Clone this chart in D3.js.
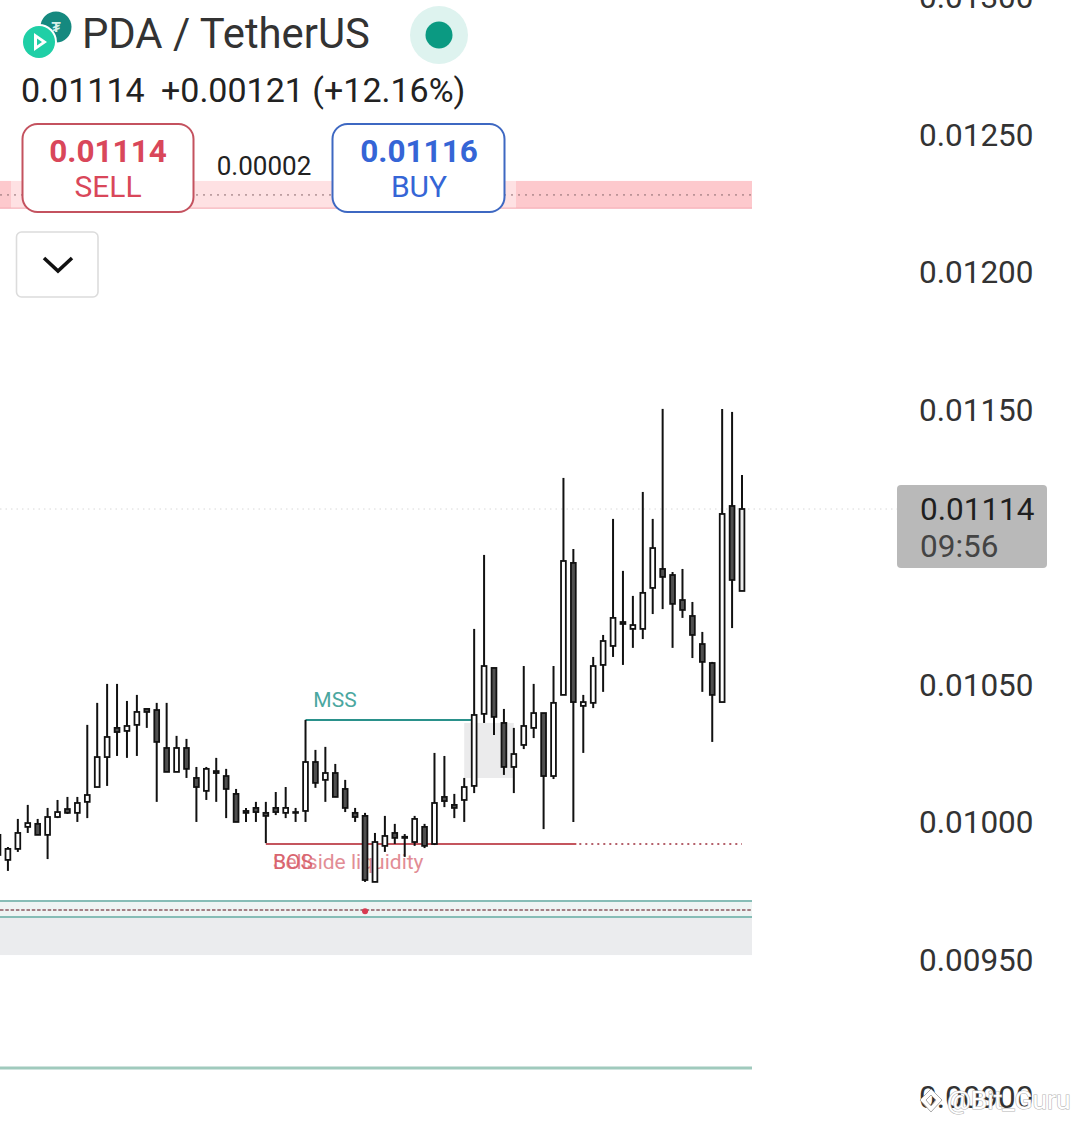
<!DOCTYPE html>
<html>
<head>
<meta charset="utf-8">
<script src="https://cdn.jsdelivr.net/npm/d3@7"></script>
<style>
  html, body { margin: 0; background: #fff; }
  svg { display: block; font-family: Roboto, sans-serif; }
</style>
</head>
<body>
<svg id="chart"></svg>
<script>
// prices are in units of 0.00001
const opens = [988.2,986.4,990.4,998.4,999.5,995.5,1002.0,1004.9,1003.5,1007.5,1012.9,1023.8,1034.4,1033.3,1035.5,1041.3,1040.9,1027.1,1018.4,1027.1,1016.2,1011.5,1018.7,1016.9,1010.4,1004.2,1005.3,1003.5,1005.3,1003.5,1003.8,1004.2,1022.0,1015.5,1018.0,1012.2,1003.5,1002.4,978.4,991.5,996.2,994.8,992.9,998.4,992.2,1009.3,1006.4,1008.2,1013.3,1039.5,1056.2,1036.2,1020.2,1028.2,1034.4,1039.8,1016.9,1046.4,1094.4,1042.4,1043.5,1057.3,1064.2,1072.9,1070.4,1070.4,1085.3,1092.2,1090.0,1080.9,1075.1,1064.9,1058.0,1043.8,1115.1,1084.2];
const highs = [996.2,991.1,1001.3,1006.4,1001.3,1005.3,1008.2,1009.3,1009.3,1035.5,1043.5,1050.4,1050.4,1044.2,1046.4,1041.3,1043.5,1043.5,1031.5,1030.4,1020.2,1020.2,1023.5,1019.5,1012.2,1005.3,1007.5,1007.5,1011.1,1012.9,1005.3,1037.3,1026.4,1027.5,1021.3,1015.5,1005.3,1003.5,996.2,1002.4,999.5,995.8,1002.4,999.5,1025.3,1024.2,1010.4,1016.2,1070.4,1097.3,1056.2,1041.3,1034.4,1056.9,1050.4,1039.8,1056.9,1125.3,1099.5,1046.4,1060.2,1068.2,1110.4,1091.5,1082.4,1120.2,1110.4,1150.4,1091.1,1092.2,1080.2,1069.3,1058.4,1150.4,1149.3,1126.4];
const lows = [982.7,982.4,989.3,996.2,995.5,986.7,1001.6,1003.1,1000.2,1001.6,1012.9,1013.3,1024.2,1023.5,1024.2,1034.4,1007.5,1018.4,1018.4,1016.2,1000.2,1008.2,1007.5,1001.6,1000.2,1000.2,1000.2,992.5,1002.7,1001.6,1000.2,1000.2,1012.6,1007.5,1009.3,1003.8,1000.2,978.4,978.4,989.3,992.2,987.5,991.5,990.7,991.8,1005.6,1001.6,1000.2,1010.7,1036.2,1031.8,1017.3,1010.7,1026.7,1030.7,997.6,1015.8,1046.4,1000.2,1025.3,1041.6,1047.5,1060.2,1057.3,1063.5,1066.7,1075.8,1077.6,1063.5,1074.4,1059.8,1047.5,1029.3,1043.8,1070.7,1084.2];
const closes = [995.5,990.4,996.2,999.8,995.5,1002.0,1003.8,1003.5,1007.1,1010.0,1023.8,1031.1,1032.9,1035.1,1040.2,1040.2,1029.3,1018.4,1027.1,1019.5,1012.9,1019.5,1018.0,1012.2,1000.2,1003.5,1003.8,1002.4,1003.8,1005.3,1003.5,1022.0,1014.4,1018.0,1009.3,1005.3,1002.0,979.1,992.9,995.1,994.4,994.4,1001.3,991.5,1007.1,1007.8,1005.3,1012.9,1039.1,1056.9,1038.4,1020.2,1024.9,1035.1,1039.8,1016.9,1043.5,1095.1,1043.8,1043.8,1056.9,1066.0,1074.4,1072.2,1071.8,1083.5,1099.8,1089.3,1079.5,1077.3,1068.2,1058.4,1046.4,1112.2,1088.2,1114.0];
const tickValues = [900, 950, 1000, 1050, 1100, 1150, 1200, 1250, 1300];
const lastPrice = 1114.0;

let width = 1080;
let height = 1123;
let paneRight = 752;

let svg = d3.select("#chart")
    .attr("width", width)
    .attr("height", height);

let scaleX = d3.scaleLinear().domain([0, 75]).range([-2, 742]);
let scaleY = d3.scaleLinear().domain([1000, 1250]).range([822.5, 135]);

// background bands and levels
svg.append("rect")
    .attr("x", 0).attr("width", paneRight)
    .attr("y", scaleY(1233.3)).attr("height", scaleY(1223.4) - scaleY(1233.3))
    .attr("fill", "#fdc9cd");
svg.append("rect")
    .attr("x", 11).attr("y", 178).attr("width", 505).attr("height", 34)
    .attr("fill", "#fff").attr("opacity", 0.45);
svg.append("line")
    .attr("x1", 0).attr("x2", paneRight)
    .attr("y1", scaleY(1228.2)).attr("y2", scaleY(1228.2))
    .attr("stroke", "#8a6a6e").attr("stroke-width", 1)
    .attr("stroke-dasharray", "2 5");
svg.append("line")
    .attr("x1", 0).attr("x2", paneRight)
    .attr("y1", scaleY(1223.4)).attr("y2", scaleY(1223.4))
    .attr("stroke", "#f4a6ae").attr("stroke-width", 1);

// current price line
svg.append("line")
    .attr("x1", 0).attr("x2", 897)
    .attr("y1", scaleY(lastPrice)).attr("y2", scaleY(lastPrice))
    .attr("stroke", "#d8d8d8").attr("stroke-width", 1)
    .attr("stroke-dasharray", "1.5 4");

// lower zone
svg.append("rect")
    .attr("x", 0).attr("width", paneRight)
    .attr("y", scaleY(971.5)).attr("height", scaleY(965.6) - scaleY(971.5))
    .attr("fill", "#eef4f3");
svg.append("rect")
    .attr("x", 0).attr("width", paneRight)
    .attr("y", scaleY(965.6)).attr("height", scaleY(951.8) - scaleY(965.6))
    .attr("fill", "#ebecee");
[971.5, 965.6].forEach(level => {
    svg.append("line")
        .attr("x1", 0).attr("x2", paneRight)
        .attr("y1", scaleY(level)).attr("y2", scaleY(level))
        .attr("stroke", "#86bdb6").attr("stroke-width", 2);
});
svg.append("line")
    .attr("x1", 0).attr("x2", paneRight)
    .attr("y1", scaleY(968.2)).attr("y2", scaleY(968.2))
    .attr("stroke", "#8b5a62").attr("stroke-width", 1.5)
    .attr("stroke-dasharray", "3.5 1.8");
svg.append("circle")
    .attr("cx", scaleX(37)).attr("cy", scaleY(967.7)).attr("r", 3)
    .attr("fill", "#d83a50");
svg.append("line")
    .attr("x1", 0).attr("x2", paneRight)
    .attr("y1", scaleY(910.7)).attr("y2", scaleY(910.7))
    .attr("stroke", "#a0cabd").attr("stroke-width", 3);

// MSS and imbalance box
svg.append("rect")
    .attr("x", scaleX(47)).attr("width", scaleX(52) - scaleX(47))
    .attr("y", scaleY(1036.2)).attr("height", scaleY(1016.2) - scaleY(1036.2))
    .attr("fill", "#ebebec");
svg.append("line")
    .attr("x1", scaleX(31)).attr("x2", scaleX(48))
    .attr("y1", scaleY(1037.3)).attr("y2", scaleY(1037.3))
    .attr("stroke", "#2a918b").attr("stroke-width", 2);
svg.append("text")
    .attr("x", 335).attr("y", 707)
    .attr("text-anchor", "middle")
    .attr("font-size", 21)
    .attr("fill", "#4ba79f")
    .text("MSS");

// BOS and liquidity
svg.append("text")
    .attr("x", 273).attr("y", 869)
    .attr("font-size", 21)
    .attr("fill", "#e28d95")
    .text("Sellside liquidity");
svg.append("text")
    .attr("x", 273).attr("y", 869)
    .attr("font-size", 21)
    .attr("fill", "#d9656f")
    .text("BOS");
svg.append("line")
    .attr("x1", scaleX(27)).attr("x2", scaleX(58.3))
    .attr("y1", scaleY(992.2)).attr("y2", scaleY(992.2))
    .attr("stroke", "#c4555e").attr("stroke-width", 2);
svg.append("line")
    .attr("x1", scaleX(58.6)).attr("x2", scaleX(75))
    .attr("y1", scaleY(992.2)).attr("y2", scaleY(992.2))
    .attr("stroke", "#b4606a").attr("stroke-width", 2)
    .attr("stroke-dasharray", "2 4");

// candles
let candles = svg.append("g").attr("id", "marks")
    .selectAll("g.candle").data(opens.map((d, i) => i))
    .join("g")
    .attr("class", "candle");

candles.append("line")
    .attr("x1", i => scaleX(i)).attr("x2", i => scaleX(i))
    .attr("y1", i => scaleY(highs[i])).attr("y2", i => scaleY(lows[i]))
    .attr("stroke", "#111").attr("stroke-width", 2);

candles.append("rect")
    .attr("x", i => scaleX(i) - 2.4)
    .attr("width", 4.8)
    .attr("y", i => scaleY(Math.max(opens[i], closes[i])))
    .attr("height", i => Math.abs(scaleY(opens[i]) - scaleY(closes[i])))
    .attr("fill", (i) => {
        if (i === opens.length - 1) return "#ececec"; // live candle
        return closes[i] < opens[i] ? "#505050" : "#fff";
    })
    .attr("stroke", "#111").attr("stroke-width", 1.8);

// price axis
let axisY = d3.axisRight(scaleY)
    .tickValues(tickValues)
    .tickSize(0)
    .tickPadding(0)
    .tickFormat(d => (d / 1e5).toFixed(5));

let axisGroup = svg.append("g")
    .attr("transform", "translate(919, 0)")
    .call(axisY);
axisGroup.select(".domain").remove();
axisGroup.selectAll("text")
    .attr("font-family", "Roboto, sans-serif")
    .attr("font-size", 31.5)
    .attr("fill", "#333");

// last price badge
svg.append("rect")
    .attr("x", 897).attr("y", 485).attr("width", 150).attr("height", 83).attr("rx", 4)
    .attr("fill", "#b9b9b9");
svg.append("text")
    .attr("x", 920).attr("y", 520)
    .attr("font-size", 31.5).attr("fill", "#1f1f1f")
    .text((lastPrice / 1e5).toFixed(5));
svg.append("text")
    .attr("x", 920).attr("y", 557)
    .attr("font-size", 31.5).attr("fill", "#444")
    .text("09:56");

// header
let logo = svg.append("g");
logo.append("circle").attr("cx", 56).attr("cy", 27).attr("r", 15.5).attr("fill", "#15897f");
logo.append("text")
    .attr("x", 56).attr("y", 32)
    .attr("text-anchor", "middle")
    .attr("font-size", 15).attr("font-weight", 700).attr("fill", "#d6f0ea")
    .text("₮");
logo.append("circle").attr("cx", 39).attr("cy", 42).attr("r", 18).attr("fill", "#fff");
logo.append("circle").attr("cx", 39).attr("cy", 42).attr("r", 16).attr("fill", "#1fcfa6");
logo.append("path")
    .attr("d", "M34 33 L47 42 L34 51 Z M37 38.5 V45.5 L42 42 Z")
    .attr("fill", "#fff").attr("fill-rule", "evenodd");

svg.append("text")
    .attr("x", 82).attr("y", 48)
    .attr("font-size", 41.8).attr("fill", "#333")
    .text("PDA / TetherUS");

svg.append("circle").attr("cx", 439).attr("cy", 35).attr("r", 29).attr("fill", "#def3ef");
svg.append("circle").attr("cx", 439).attr("cy", 35).attr("r", 13.5).attr("fill", "#0b9a82");

svg.append("text")
    .attr("x", 21).attr("y", 102)
    .attr("font-size", 34).attr("fill", "#222")
    .text("0.01114");
svg.append("text")
    .attr("x", 161).attr("y", 102)
    .attr("font-size", 34).attr("fill", "#222")
    .text("+0.00121 (+12.16%)");

// sell and buy buttons
svg.append("rect")
    .attr("x", 22.5).attr("y", 124).attr("width", 171).attr("height", 88).attr("rx", 15)
    .attr("fill", "#fff").attr("stroke", "#c4525f").attr("stroke-width", 2);
svg.append("text")
    .attr("x", 108).attr("y", 162)
    .attr("text-anchor", "middle")
    .attr("font-size", 31.5).attr("font-weight", 700).attr("fill", "#d9475a")
    .text("0.01114");
svg.append("text")
    .attr("x", 108).attr("y", 197)
    .attr("text-anchor", "middle")
    .attr("font-size", 30).attr("fill", "#d9475a")
    .text("SELL");

svg.append("text")
    .attr("x", 264).attr("y", 175)
    .attr("text-anchor", "middle")
    .attr("font-size", 26).attr("fill", "#222")
    .text("0.00002");

svg.append("rect")
    .attr("x", 332.5).attr("y", 124).attr("width", 172).attr("height", 88).attr("rx", 15)
    .attr("fill", "#fff").attr("stroke", "#3e68c2").attr("stroke-width", 2);
svg.append("text")
    .attr("x", 419).attr("y", 162)
    .attr("text-anchor", "middle")
    .attr("font-size", 31.5).attr("font-weight", 700).attr("fill", "#3565d6")
    .text("0.01116");
svg.append("text")
    .attr("x", 419).attr("y", 197)
    .attr("text-anchor", "middle")
    .attr("font-size", 30).attr("fill", "#3565d6")
    .text("BUY");

// collapse button
svg.append("rect")
    .attr("x", 16.5).attr("y", 232).attr("width", 81.5).attr("height", 65).attr("rx", 5)
    .attr("fill", "#fff").attr("stroke", "#dcdcdc").attr("stroke-width", 1.6);
svg.append("path")
    .attr("d", "M44 258 L58 271 L72 258")
    .attr("fill", "none").attr("stroke", "#111").attr("stroke-width", 3.6);

// watermark
svg.append("path")
    .attr("d", "M931 1089 L942 1100 L931 1112 L920 1100 Z M931 1095 L936 1100 L931 1106 L926 1100 Z")
    .attr("fill", "#fff").attr("stroke", "#aaa").attr("stroke-width", 1).attr("fill-rule", "evenodd");
svg.append("text")
    .attr("x", 947).attr("y", 1109)
    .attr("font-size", 26.5)
    .attr("fill", "#fff")
    .attr("stroke", "#b5b5b5").attr("stroke-width", 1.2)
    .attr("paint-order", "stroke")
    .text("@Bit_Guru");
</script>
</body>
</html>
